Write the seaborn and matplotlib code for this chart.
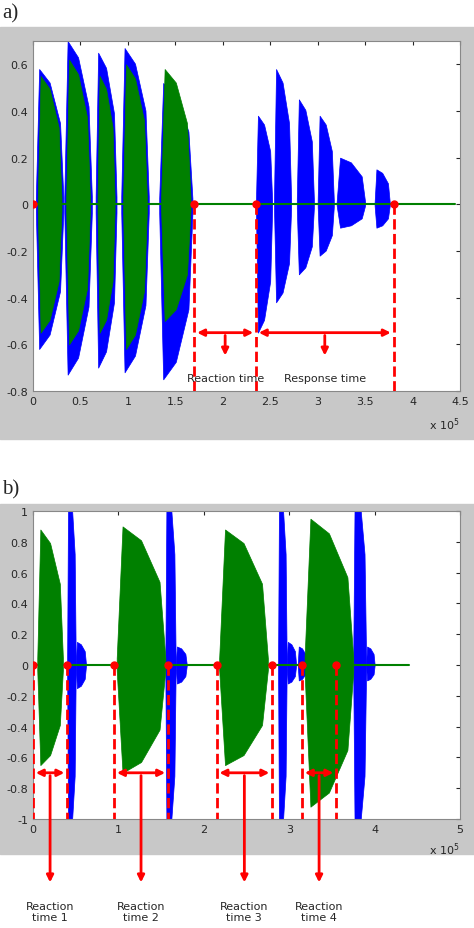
import matplotlib
matplotlib.use("Agg")
import matplotlib.pyplot as plt
import seaborn as sns
import numpy as np
from matplotlib.patches import Rectangle

sns.set_style("white")
plt.rcParams['font.family'] = ['DejaVu Sans']

# bursts: (start, end, top, bottom) in units of 1e5 samples
a_blue = [(0.03,0.32,0.58,-0.62),(0.33,0.62,0.70,-0.73),(0.66,0.88,0.65,-0.70),
          (0.93,1.22,0.67,-0.72),(1.33,1.68,0.52,-0.75),
          (2.35,2.52,0.38,-0.55),(2.54,2.72,0.58,-0.42),(2.78,2.96,0.45,-0.30),
          (3.00,3.17,0.38,-0.22),(3.20,3.50,0.20,-0.10),(3.60,3.76,0.15,-0.10)]
a_green = [(0.05,0.30,0.55,-0.55),(0.35,0.60,0.62,-0.60),(0.68,0.86,0.55,-0.55),
           (0.95,1.20,0.60,-0.62),(1.35,1.66,0.58,-0.50)]
a_dots = [0.0, 1.7, 2.35, 3.8]
a_dash = [1.7, 2.35, 3.8]
a_spans = [(1.7, 2.35, "Reaction time"), (2.35, 3.8, "Response time")]

b_blue = [(0.40,0.50,1.2,-1.2),(0.50,0.62,0.15,-0.15),(1.55,1.67,1.2,-1.2),
          (1.67,1.80,0.12,-0.12),(2.87,2.97,1.2,-1.2),(2.97,3.08,0.15,-0.12),
          (3.10,3.20,0.12,-0.10),(3.75,3.90,1.2,-1.2),(3.90,4.00,0.12,-0.10)]
b_green = [(0.05,0.35,0.88,-0.65),(0.98,1.55,0.90,-0.70),(2.18,2.75,0.88,-0.65),
           (3.18,3.75,0.95,-0.92)]
b_pairs = [(0.0,0.40),(0.95,1.58),(2.15,2.80),(3.15,3.55)]
b_labels = ["Reaction\ntime 1","Reaction\ntime 2","Reaction\ntime 3","Reaction\ntime 4"]

W, H = 474, 929
fig = plt.figure(figsize=(W/100, H/100), dpi=100)
fig.add_artist(Rectangle((0, 1-440/H), 1, 412/H, transform=fig.transFigure, color="#c8c8c8", zorder=-10))
fig.add_artist(Rectangle((0, 1-855/H), 1, 350/H, transform=fig.transFigure, color="#c8c8c8", zorder=-10))
fig.text(0.005, 1-14/H, "a)", fontsize=15, family="Liberation Serif", va="center")
fig.text(0.005, 1-490/H, "b)", fontsize=15, family="Liberation Serif", va="center")

def burst(ax, b, color, z):
    s, e, t, btm = b
    w = e - s
    xs = [s, s+0.12*w, s+0.5*w, e-0.12*w, e]
    f = [0.05, 1.0, 0.9, 0.6, 0.05]
    ax.fill_between(xs, [t*k for k in f], [btm*k for k in f], color=color, lw=0.5, zorder=z)

def style(ax):
    ax.set_facecolor("white")
    for s in ax.spines.values():
        s.set_color("#888888"); s.set_linewidth(0.8)
    ax.tick_params(labelsize=8, length=3, direction="in", top=True, right=True)

# Panel a
axa = fig.add_axes([33/W, 1-392/H, 427/W, 350/H])
style(axa)
for b in a_blue: burst(axa, b, "blue", 2)
for b in a_green: burst(axa, b, "green", 3)
axa.plot([0, 4.45], [0, 0], color="green", lw=1.5, zorder=4)
axa.plot(a_dots, [0]*len(a_dots), "o", color="red", ms=5, zorder=6)
for x in a_dash:
    axa.plot([x, x], [0, -0.8], "--", color="red", lw=2, zorder=5)
for s, e, lab in a_spans:
    axa.annotate("", xy=(s, -0.55), xytext=(e, -0.55),
                 arrowprops=dict(arrowstyle="<|-|>", color="red", lw=2), zorder=5)
    m = (s+e)/2
    axa.annotate("", xy=(m, -0.66), xytext=(m, -0.55),
                 arrowprops=dict(arrowstyle="-|>", color="red", lw=2), zorder=5)
    axa.text(m, -0.745, lab, fontsize=8, ha="center", va="center", zorder=7)
axa.set_xlim(0, 4.5); axa.set_ylim(-0.8, 0.7)
axa.set_xticks(np.arange(0, 4.51, 0.5)); axa.set_xticklabels(["0","0.5","1","1.5","2","2.5","3","3.5","4","4.5"])
axa.set_yticks(np.arange(-0.8, 0.61, 0.2)); axa.set_yticklabels(["-0.8","-0.6","-0.4","-0.2","0","0.2","0.4","0.6"])
axa.text(1.0, -0.07, r"x 10$^5$", transform=axa.transAxes, ha="right", va="top", fontsize=8)

# Panel b
axb = fig.add_axes([33/W, 1-820/H, 427/W, 308/H])
style(axb)
for b in b_blue: burst(axb, b, "blue", 2)
for b in b_green: burst(axb, b, "green", 3)
axb.plot([0, 4.4], [0, 0], color="green", lw=1.5, zorder=4)
for (s, e), lab in zip(b_pairs, b_labels):
    axb.plot([s, e], [0, 0], "o", color="red", ms=5, zorder=6)
    for x in (s, e):
        axb.plot([x, x], [0, -1], "--", color="red", lw=2, zorder=5)
    axb.annotate("", xy=(s, -0.7), xytext=(e, -0.7),
                 arrowprops=dict(arrowstyle="<|-|>", color="red", lw=2), zorder=5)
    m = (s+e)/2
    axb.annotate("", xy=(m, -1.43), xytext=(m, -0.7),
                 arrowprops=dict(arrowstyle="-|>", color="red", lw=2), zorder=5,
                 annotation_clip=False)
    axb.text(m, -1.6, lab, fontsize=8, ha="center", va="center", clip_on=False)
axb.set_xlim(0, 5); axb.set_ylim(-1, 1)
axb.set_xticks(range(6))
axb.set_yticks(np.arange(-1, 1.01, 0.2)); axb.set_yticklabels(["-1","-0.8","-0.6","-0.4","-0.2","0","0.2","0.4","0.6","0.8","1"])
axb.text(1.0, -0.07, r"x 10$^5$", transform=axb.transAxes, ha="right", va="top", fontsize=8)

fig.savefig("out.png", dpi=100)
